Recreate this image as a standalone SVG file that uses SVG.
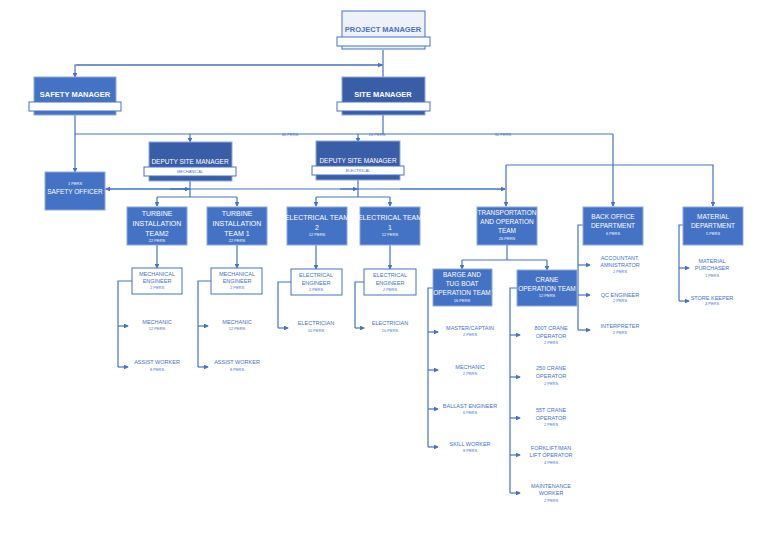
<svg xmlns="http://www.w3.org/2000/svg" width="768" height="543" viewBox="0 0 768 543">
<defs>
<marker id="ar" viewBox="0 0 6 6" refX="5" refY="3" markerWidth="4" markerHeight="4" orient="auto"><path d="M0,0L6,3L0,6z" fill="#4472c4"/></marker>
<style>
.b{fill:#4472c4;stroke:#8eaadb;stroke-width:1}
.bd{fill:#3a5da8;stroke:#8eaadb;stroke-width:1}
.bar{fill:#fff;stroke:#4472c4;stroke-width:1}
.w{font-family:"Liberation Sans",Arial,sans-serif;fill:#fff;text-anchor:middle;font-size:7px}
.wb{font-family:"Liberation Sans",Arial,sans-serif;fill:#fff;text-anchor:middle;font-size:7.5px;font-weight:bold}
.ws{font-family:"Liberation Sans",Arial,sans-serif;fill:#fff;text-anchor:middle;font-size:4px}
.t{font-family:"Liberation Sans",Arial,sans-serif;fill:#4472c4;text-anchor:middle;font-size:5.5px}
.ts{font-family:"Liberation Sans",Arial,sans-serif;fill:#4472c4;text-anchor:middle;font-size:4px}
.c{fill:none;stroke:#4472c4;stroke-width:1.2}
.ca{fill:none;stroke:#4472c4;stroke-width:1.2;marker-end:url(#ar)}
.eb{fill:#fff;stroke:#4472c4;stroke-width:1}
</style>
</defs>
<rect width="768" height="543" fill="#fff"/>
<g id="connectors">
<path class="c" d="M383,50V77"/>
<path class="ca" d="M383,65H75V77"/>
<path class="ca" d="M76,65H382"/>
<path class="c" d="M383,115V134"/>
<path class="c" d="M75,111V134H613"/>
<path class="ca" d="M75,134V172"/>
<path class="ca" d="M190,134V142"/>
<path class="ca" d="M358,134V142"/>
<path class="ca" d="M613,134V206"/>
<path class="c" d="M105,189H505"/>
<path class="ca" d="M190,189H106"/>
<path class="ca" d="M170,189H189"/>
<path class="ca" d="M340,189H357"/>
<path class="ca" d="M400,189H505"/>
<path class="ca" d="M506,165V206"/>
<path class="ca" d="M506,165H713V206"/>
<path class="c" d="M190,181V197"/>
<path class="ca" d="M157,197V206"/><path class="c" d="M157,197H237"/><path class="ca" d="M237,197V206"/>
<path class="c" d="M358,180V197"/>
<path class="ca" d="M316,197V206"/><path class="c" d="M316,197H390"/><path class="ca" d="M390,197V206"/>
<path class="ca" d="M157,245V268"/><path class="ca" d="M237,245V268"/>
<path class="ca" d="M316,245V269"/><path class="ca" d="M390,245V269"/>
<path class="c" d="M132,281H118V367"/><path class="ca" d="M118,326H128"/><path class="ca" d="M118,367H128"/>
<path class="c" d="M211,281H198V367"/><path class="ca" d="M198,326H208"/><path class="ca" d="M198,367H208"/>
<path class="c" d="M291,282H278V328"/><path class="ca" d="M278,328H288"/>
<path class="c" d="M364,282H355V328"/><path class="ca" d="M355,328H364"/>
<path class="c" d="M507,245V260"/>
<path class="ca" d="M462,260H462V269"/><path class="c" d="M462,260H547"/><path class="ca" d="M547,260V270"/>
<path class="c" d="M433,288H428V447"/>
<path class="ca" d="M428,332H438"/><path class="ca" d="M428,370H438"/><path class="ca" d="M428,409H438"/><path class="ca" d="M428,447H438"/>
<path class="c" d="M517,288H510V493"/>
<path class="ca" d="M510,335H520"/><path class="ca" d="M510,377H520"/><path class="ca" d="M510,418H520"/><path class="ca" d="M510,455H520"/><path class="ca" d="M510,493H520"/>
<path class="c" d="M583,225H578V330"/>
<path class="ca" d="M578,265H590"/><path class="ca" d="M578,295H590"/><path class="ca" d="M578,330H590"/>
<path class="c" d="M683,225H679V301"/>
<path class="ca" d="M679,268H689"/><path class="ca" d="M679,301H689"/>
</g>
<g class="ts">
<text x="290" y="136">46 PERS</text><text x="377" y="136">26 PERS</text><text x="503" y="136">30 PERS</text>
</g>
<g id="pm"><rect x="342" y="11" width="83" height="38" fill="#eef1f9" stroke="#4472c4"/><rect class="bar" x="337" y="37" width="93" height="9"/><text x="383" y="32" class="wb" fill="#4472c4" style="fill:#4472c4">PROJECT MANAGER</text></g>
<g id="sm"><rect class="b" x="34" y="77" width="82" height="38"/><rect class="bar" x="29" y="102" width="92" height="9"/><text x="75" y="97" class="wb">SAFETY MANAGER</text></g>
<g id="site"><rect class="bd" x="342" y="77" width="83" height="38"/><rect class="bar" x="337" y="102" width="93" height="9"/><text x="383" y="97" class="wb">SITE MANAGER</text></g>
<g id="dsm1"><rect class="bd" x="149" y="142" width="83" height="39"/><rect class="bar" x="144" y="167" width="92" height="9"/><text x="190" y="164" class="w" style="font-size:6.5px">DEPUTY SITE MANAGER</text><text x="190" y="173" class="ts">MECHANICAL</text></g>
<g id="dsm2"><rect class="bd" x="316" y="141" width="84" height="39"/><rect class="bar" x="312" y="166" width="92" height="9"/><text x="358" y="163" class="w" style="font-size:6.5px">DEPUTY SITE MANAGER</text><text x="358" y="172" class="ts">ELECTRICAL</text></g>
<g id="so"><rect class="b" x="45" y="172" width="60" height="38"/><text x="75" y="185" class="ws">1 PERS</text><text x="75" y="194" class="w" style="font-size:6.5px">SAFETY OFFICER</text></g>
<g id="tit2"><rect class="b" x="127" y="207" width="60" height="38"/><text class="w" x="157" y="216">TURBINE</text><text class="w" x="157" y="226">INSTALLATION</text><text class="w" x="157" y="236">TEAM2</text><text class="ws" x="157" y="242">22 PERS</text></g>
<g id="tit1"><rect class="b" x="207" y="207" width="60" height="38"/><text class="w" x="237" y="216">TURBINE</text><text class="w" x="237" y="226">INSTALLATION</text><text class="w" x="237" y="236">TEAM 1</text><text class="ws" x="237" y="242">22 PERS</text></g>
<g id="et2"><rect class="b" x="287" y="207" width="60" height="38"/><text class="w" x="317" y="220">ELECTRICAL TEAM</text><text class="w" x="317" y="230">2</text><text class="ws" x="317" y="236">12 PERS</text></g>
<g id="et1"><rect class="b" x="360" y="207" width="60" height="38"/><text class="w" x="390" y="220">ELECTRICAL TEAM</text><text class="w" x="390" y="230">1</text><text class="ws" x="390" y="236">12 PERS</text></g>
<g id="me2"><rect class="eb" x="132" y="268" width="50" height="26"/><text class="t" x="157" y="276">MECHANICAL</text><text class="t" x="157" y="283">ENGINEER</text><text class="ts" x="157" y="289">2 PERS</text></g>
<g id="me1"><rect class="eb" x="211" y="268" width="51" height="26"/><text class="t" x="237" y="276">MECHANICAL</text><text class="t" x="237" y="283">ENGINEER</text><text class="ts" x="237" y="289">2 PERS</text></g>
<g id="ee2"><rect class="eb" x="291" y="269" width="51" height="26"/><text class="t" x="316" y="277">ELECTRICAL</text><text class="t" x="316" y="285">ENGINEER</text><text class="ts" x="316" y="291">2 PERS</text></g>
<g id="ee1"><rect class="eb" x="364" y="269" width="52" height="26"/><text class="t" x="390" y="277">ELECTRICAL</text><text class="t" x="390" y="285">ENGINEER</text><text class="ts" x="390" y="291">2 PERS</text></g>
<g id="leaves1">
<text class="t" x="157" y="324">MECHANIC</text><text class="ts" x="157" y="330">12 PERS</text>
<text class="t" x="157" y="364">ASSIST WORKER</text><text class="ts" x="157" y="371">8 PERS</text>
<text class="t" x="237" y="324">MECHANIC</text><text class="ts" x="237" y="330">12 PERS</text>
<text class="t" x="237" y="364">ASSIST WORKER</text><text class="ts" x="237" y="371">8 PERS</text>
<text class="t" x="316" y="325">ELECTRICIAN</text><text class="ts" x="316" y="332">10 PERS</text>
<text class="t" x="390" y="325">ELECTRICIAN</text><text class="ts" x="390" y="332">10 PERS</text>
</g>
<g id="tot"><rect class="b" x="477" y="207" width="60" height="38"/><text class="w" x="507" y="215" style="font-size:6.5px">TRANSPORTATION</text><text class="w" x="507" y="224" style="font-size:6.5px">AND OPERATION</text><text class="w" x="507" y="233" style="font-size:6.5px">TEAM</text><text class="ws" x="507" y="240">26 PERS</text></g>
<g id="barge"><rect class="b" x="433" y="269" width="59" height="37"/><text class="w" x="462" y="277" style="font-size:6.5px">BARGE AND</text><text class="w" x="462" y="286" style="font-size:6.5px">TUG BOAT</text><text class="w" x="462" y="295" style="font-size:6.5px">OPERATION TEAM</text><text class="ws" x="462" y="302">16 PERS</text></g>
<g id="crane"><rect class="b" x="517" y="270" width="60" height="36"/><text class="w" x="547" y="282" style="font-size:6.5px">CRANE</text><text class="w" x="547" y="291" style="font-size:6.5px">OPERATION TEAM</text><text class="ws" x="547" y="297">12 PERS</text></g>
<g id="bo"><rect class="b" x="583" y="207" width="60" height="38"/><text class="w" x="613" y="219" style="font-size:6.5px">BACK OFFICE</text><text class="w" x="613" y="228" style="font-size:6.5px">DEPARTMENT</text><text class="ws" x="613" y="235">6 PERS</text></g>
<g id="md"><rect class="b" x="683" y="207" width="60" height="38"/><text class="w" x="713" y="219" style="font-size:6.5px">MATERIAL</text><text class="w" x="713" y="228" style="font-size:6.5px">DEPARTMENT</text><text class="ws" x="713" y="235">5 PERS</text></g>
<g id="leaves2">
<text class="t" x="470" y="330">MASTER/CAPTAIN</text><text class="ts" x="470" y="336">2 PERS</text>
<text class="t" x="470" y="369">MECHANIC</text><text class="ts" x="470" y="375">2 PERS</text>
<text class="t" x="470" y="408">BALLAST ENGINEER</text><text class="ts" x="470" y="414">6 PERS</text>
<text class="t" x="470" y="446">SKILL WORKER</text><text class="ts" x="470" y="452">8 PERS</text>
<text class="t" x="551" y="330">800T CRANE</text><text class="t" x="551" y="338">OPERATOR</text><text class="ts" x="551" y="344">2 PERS</text>
<text class="t" x="551" y="370">250 CRANE</text><text class="t" x="551" y="378">OPERATOR</text><text class="ts" x="551" y="385">2 PERS</text>
<text class="t" x="551" y="412">55T CRANE</text><text class="t" x="551" y="420">OPERATOR</text><text class="ts" x="551" y="426">2 PERS</text>
<text class="t" x="551" y="450">FORKLIFT/MAN</text><text class="t" x="551" y="457">LIFT OPERATOR</text><text class="ts" x="551" y="464">4 PERS</text>
<text class="t" x="551" y="488">MAINTENANCE</text><text class="t" x="551" y="495">WORKER</text><text class="ts" x="551" y="502">2 PERS</text>
<text class="t" x="620" y="260">ACCOUNTANT,</text><text class="t" x="620" y="267">AMNISTRATOR</text><text class="ts" x="620" y="273">2 PERS</text>
<text class="t" x="620" y="297">QC ENGINEER</text><text class="ts" x="620" y="302">2 PERS</text>
<text class="t" x="620" y="328">INTERPRETER</text><text class="ts" x="620" y="334">2 PERS</text>
<text class="t" x="712" y="263">MATERIAL</text><text class="t" x="712" y="270">PURCHASER</text><text class="ts" x="712" y="277">1 PERS</text>
<text class="t" x="712" y="300">STORE KEEPER</text><text class="ts" x="712" y="305">4 PERS</text>
</g>
</svg>
